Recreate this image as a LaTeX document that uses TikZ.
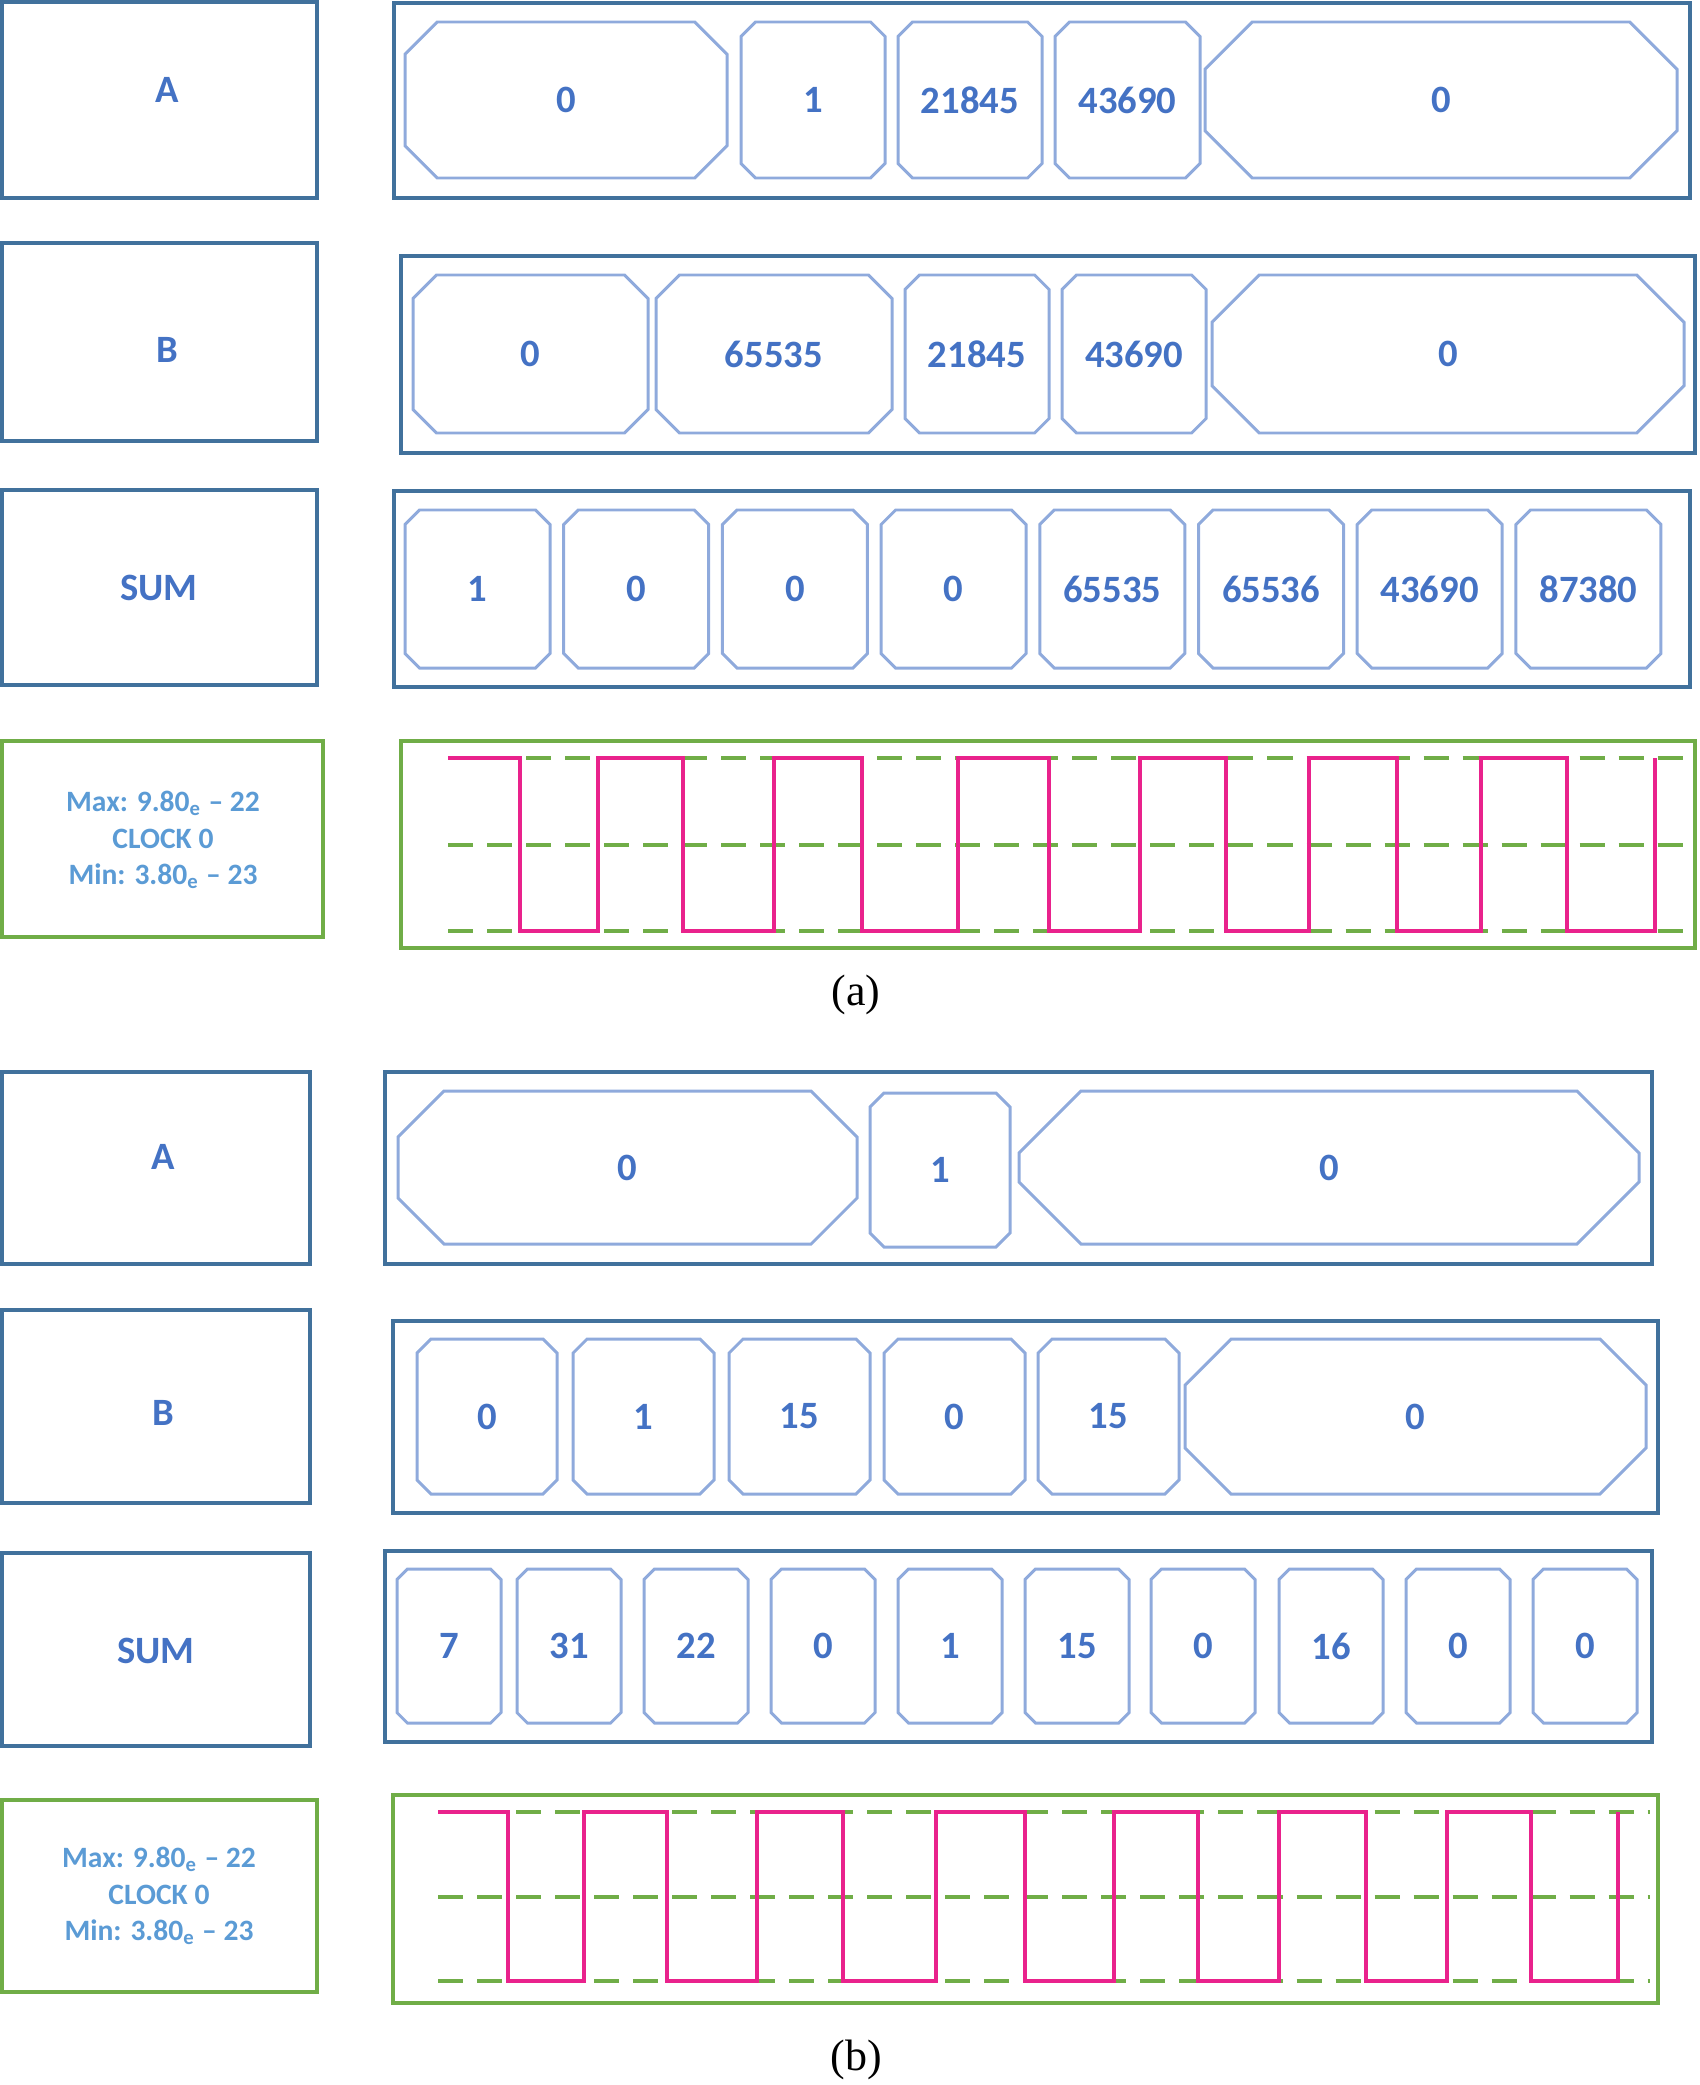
\documentclass[tikz,border=0pt]{standalone}
\usepackage{fontspec}
\setmainfont{Carlito}
\newfontfamily\capfont{Liberation Serif}
\usetikzlibrary{fit,positioning}
\definecolor{framec}{RGB}{65,113,156}
\definecolor{cellc}{RGB}{143,170,220}
\definecolor{txtc}{RGB}{68,114,196}
\definecolor{clktxt}{RGB}{91,155,213}
\definecolor{grn}{RGB}{112,173,71}
\definecolor{wavec}{RGB}{233,34,140}
\tikzset{
    valframe/.style={
        draw=framec,line width=1.1pt,inner sep=0pt
    },
    clkframe/.style={
        draw=grn,line width=1.1pt,inner sep=0pt
    },
    cellline/.style={
        draw=cellc,line width=0.85pt
    },
    val/.style={
        text=txtc,inner sep=0pt,font=\fontsize{11}{13}\selectfont\bfseries
    },
    clktext/.style={
        text=clktxt,inner sep=0pt,align=center,font=\fontsize{8.4}{10.4}\selectfont\bfseries
    },
    dashline/.style={
        draw=grn,line width=1.1pt,dash pattern=on 0.25cm off 0.14cm
    },
    clockwave/.style={
        draw=wavec,line width=0.9pt
    },
    captext/.style={
        inner sep=0pt,font=\capfont\fontsize{12.5}{15}\selectfont
    }
}
% octagon cell: name, x1, y1, x2, y2, text
\newcommand\valcell[6]{%
    \pgfmathsetmacro\ccut{0.1*(#4-#2)}
    \draw[cellline] (#2+\ccut,#3) -- (#4-\ccut,#3) -- (#4,#3+\ccut) -- (#4,#5-\ccut)
        -- (#4-\ccut,#5) -- (#2+\ccut,#5) -- (#2,#5-\ccut) -- (#2,#3+\ccut) -- cycle;
    \node[val] (#1) at ({(#2+#4)/2},{(#3+#5)/2}) {#6};
}
\begin{document}
\begin{tikzpicture}[x=0.01cm,y=-0.01cm]
\useasboundingbox (0,0) rectangle (1699,2085);
%% (a)
\node[valframe,fit={(2,2) (317,198)}] (boxAa) {};
\node[valframe,fit={(2,243) (317,441)}] (boxBa) {};
\node[valframe,fit={(2,490) (317,685)}] (boxSa) {};
\node[clkframe,fit={(2,741) (323,937)}] (boxCa) {};
\node[val] (labAa) at (167,90) {A};
\node[val] (labBa) at (167,350) {B};
\node[val] (labSa) at (159,588) {SUM};
\node[clktext] (labCa) at (163,840) {Max: 9.80\textsubscript{e} -- 22\\CLOCK 0\\Min: 3.80\textsubscript{e} -- 23};
\node[valframe,fit={(394,3) (1690,198)}] (frAa) {};
\node[valframe,fit={(401,256) (1695,453)}] (frBa) {};
\node[valframe,fit={(394,491) (1690,687)}] (frSa) {};
\node[clkframe,fit={(401,741) (1695,948)}] (frCa) {};
\valcell{aA1}{405}{22}{727}{178}{0}
\valcell{aA2}{741}{22}{885}{178}{1}
\valcell{aA3}{898}{22}{1042}{178}{21845}
\valcell{aA4}{1055}{22}{1200}{178}{43690}
\valcell{aA5}{1205}{22}{1677}{178}{0}
\valcell{aB1}{413}{275}{648}{433}{0}
\valcell{aB2}{656}{275}{892}{433}{65535}
\valcell{aB3}{905}{275}{1049}{433}{21845}
\valcell{aB4}{1062}{275}{1206}{433}{43690}
\valcell{aB5}{1212}{275}{1684}{433}{0}
\foreach \v [count=\i from 0] in {1,0,0,0,65535,65536,43690,87380} {
    \pgfmathsetmacro\xl{405+158.7*\i}
    \pgfmathsetmacro\xr{\xl+145}
    \valcell{aS\i}{\xl}{510}{\xr}{668}{\v}
}
\foreach \y in {758,845,931} \draw[dashline] (448,\y) -- (1688,\y);
\draw[clockwave] (448,758) -| (520,931) -| (598,758) -| (683,931) -| (774,758) -| (862,931)
    -| (958,758) -| (1049,931) -| (1140,758) -| (1226,931) -| (1309,758) -| (1397,931)
    -| (1481,758) -| (1567,931) -| (1655,758);
\node[captext] (capa) at (856,995) {(a)};
%% (b)
\node[valframe,fit={(2,1072) (310,1264)}] (boxAb) {};
\node[valframe,fit={(2,1310) (310,1503)}] (boxBb) {};
\node[valframe,fit={(2,1553) (310,1746)}] (boxSb) {};
\node[clkframe,fit={(2,1800) (317,1992)}] (boxCb) {};
\node[val] (labAb) at (163,1157) {A};
\node[val] (labBb) at (163,1413) {B};
\node[val] (labSb) at (156,1651) {SUM};
\node[clktext] (labCb) at (159,1896) {Max: 9.80\textsubscript{e} -- 22\\CLOCK 0\\Min: 3.80\textsubscript{e} -- 23};
\node[valframe,fit={(385,1072) (1652,1264)}] (frAb) {};
\node[valframe,fit={(393,1321) (1658,1513)}] (frBb) {};
\node[valframe,fit={(385,1551) (1652,1742)}] (frSb) {};
\node[clkframe,fit={(393,1795) (1658,2003)}] (frCb) {};
\valcell{bA1}{398}{1091}{857}{1244}{0}
\valcell{bA2}{870}{1093}{1010}{1247}{1}
\valcell{bA3}{1019}{1091}{1639}{1244}{0}
\valcell{bB1}{417}{1339}{557}{1494}{0}
\valcell{bB2}{573}{1339}{714}{1494}{1}
\valcell{bB3}{729}{1339}{870}{1494}{15}
\valcell{bB4}{884}{1339}{1025}{1494}{0}
\valcell{bB5}{1038}{1339}{1179}{1494}{15}
\valcell{bB6}{1185}{1339}{1646}{1494}{0}
\foreach \xl/\v [count=\i] in {397/7,517/31,644/22,771/0,898/1,1025/15,1151/0,1279/16,1406/0,1533/0} {
    \pgfmathsetmacro\xr{\xl+104}
    \valcell{bS\i}{\xl}{1569}{\xr}{1723}{\v}
}
\foreach \y in {1812,1897,1981} \draw[dashline] (438,\y) -- (1650,\y);
\draw[clockwave] (438,1812) -| (508,1981) -| (584,1812) -| (667,1981) -| (757,1812) -| (843,1981)
    -| (936,1812) -| (1025,1981) -| (1114,1812) -| (1198,1981) -| (1279,1812) -| (1366,1981)
    -| (1447,1812) -| (1531,1981) -| (1618,1812);
\node[captext] (capb) at (856,2060) {(b)};
\end{tikzpicture}
\end{document}
